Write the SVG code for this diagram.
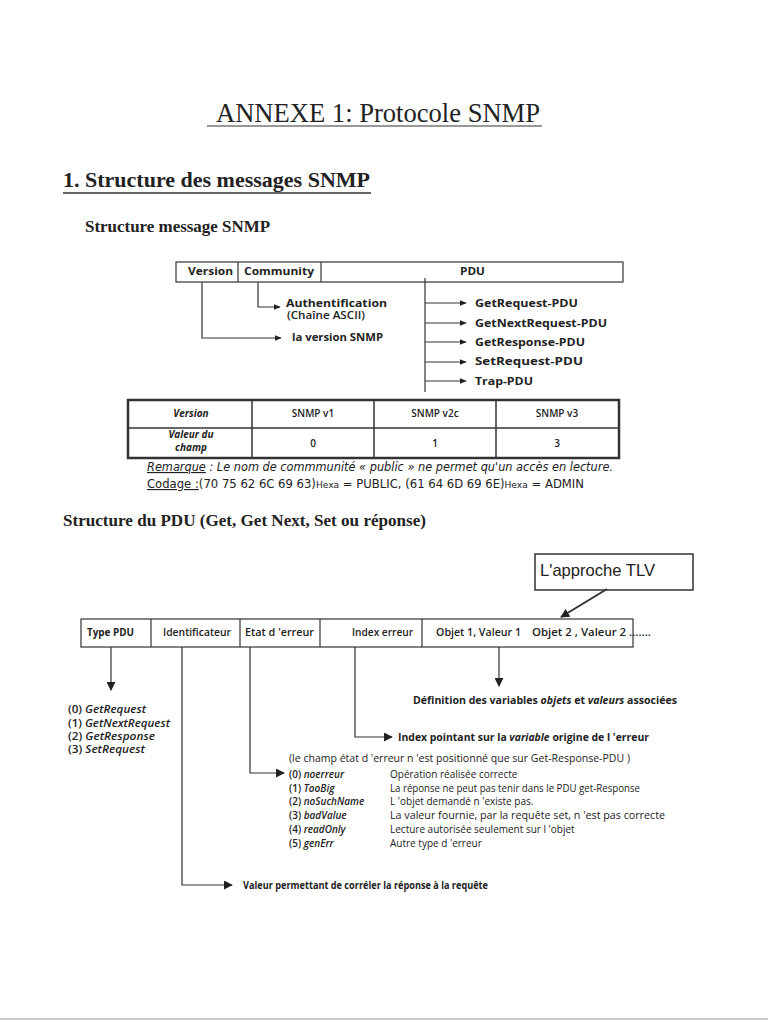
<svg xmlns="http://www.w3.org/2000/svg" width="768" height="1024" viewBox="0 0 768 1024">
<defs>
<marker id="ah" viewBox="0 0 10 10" refX="9" refY="5" markerWidth="7" markerHeight="7" markerUnits="userSpaceOnUse" orient="auto"><path d="M0,1 L10,5 L0,9 z" fill="#222"/></marker>
<marker id="ahb" viewBox="0 0 10 10" refX="9" refY="5" markerWidth="9" markerHeight="9" markerUnits="userSpaceOnUse" orient="auto"><path d="M0,0 L10,5 L0,10 z" fill="#222"/></marker>
<style>
.ti{font-family:"Liberation Serif",serif;fill:#222}
.f{font-family:"Open Sans","DejaVu Sans",sans-serif;font-weight:bold;font-size:10px;fill:#222}
.m{font-family:"Open Sans","DejaVu Sans",sans-serif;font-weight:600;font-size:10px;fill:#222}
.r{font-family:"Open Sans","DejaVu Sans",sans-serif;font-size:10px;fill:#222}
.it{font-style:italic}
.cm{font-family:"DejaVu Sans",sans-serif;font-size:11.5px;fill:#222}
.ln{fill:none;stroke:#333;stroke-width:1.2}
.bx{fill:#fff;stroke:#333;stroke-width:1.2}
</style>
</defs>
<rect width="768" height="1024" fill="#fff"/>
<line x1="0" y1="1019" x2="768" y2="1019" stroke="#bbb" stroke-width="1.5"/>

<g id="titles">
<text class="ti" x="216" y="122" font-size="26.5" textLength="324" lengthAdjust="spacingAndGlyphs">ANNEXE 1: Protocole SNMP</text>
<line x1="207" y1="126" x2="542" y2="126" stroke="#333" stroke-width="1.2"/>
<text class="ti" x="63" y="187" font-size="22" font-weight="bold" textLength="307" lengthAdjust="spacingAndGlyphs">1. Structure des messages SNMP</text>
<line x1="63" y1="193" x2="371" y2="193" stroke="#333" stroke-width="1.5"/>
<text class="ti" x="85" y="232" font-size="17" font-weight="bold" textLength="185" lengthAdjust="spacingAndGlyphs">Structure message SNMP</text>
<text class="ti" x="63" y="526" font-size="17" font-weight="bold" textLength="363" lengthAdjust="spacingAndGlyphs">Structure du PDU (Get, Get Next, Set ou réponse)</text>
</g>

<g id="message">
<rect class="bx" x="176" y="262" width="447" height="20"/>
<line class="ln" x1="238" y1="262" x2="238" y2="282"/>
<line class="ln" x1="321" y1="262" x2="321" y2="282"/>
<text class="f" x="188" y="275" textLength="45" lengthAdjust="spacingAndGlyphs">Version</text>
<text class="f" x="244" y="275" textLength="70" lengthAdjust="spacingAndGlyphs">Community</text>
<text class="f" x="460" y="275" textLength="25" lengthAdjust="spacingAndGlyphs">PDU</text>
</g>

<g id="msg-labels">
<text class="f" x="286" y="307" font-size="9" textLength="101" lengthAdjust="spacingAndGlyphs">Authentification</text>
<text class="m" x="287" y="319" font-size="8.5" textLength="78" lengthAdjust="spacingAndGlyphs">(Chaîne ASCII)</text>
<text class="f" x="292" y="341" textLength="91" lengthAdjust="spacingAndGlyphs">la version SNMP</text>
<text class="f" x="475" y="307" textLength="103" lengthAdjust="spacingAndGlyphs">GetRequest-PDU</text>
<text class="f" x="475" y="327" textLength="132" lengthAdjust="spacingAndGlyphs">GetNextRequest-PDU</text>
<text class="f" x="475" y="346" textLength="110" lengthAdjust="spacingAndGlyphs">GetResponse-PDU</text>
<text class="f" x="475" y="365" textLength="108" lengthAdjust="spacingAndGlyphs">SetRequest-PDU</text>
<text class="f" x="475" y="385" textLength="58" lengthAdjust="spacingAndGlyphs">Trap-PDU</text>
</g>

<g id="connectors-msg">
<polyline class="ln" points="202,282 202,338 281,338" marker-end="url(#ah)"/>
<polyline class="ln" points="258,282 258,307 280,307" marker-end="url(#ah)"/>
<line class="ln" x1="425" y1="278" x2="425" y2="392"/>
<line class="ln" x1="425" y1="303" x2="466" y2="303" marker-end="url(#ah)"/>
<line class="ln" x1="425" y1="323" x2="466" y2="323" marker-end="url(#ah)"/>
<line class="ln" x1="425" y1="342" x2="466" y2="342" marker-end="url(#ah)"/>
<line class="ln" x1="425" y1="362" x2="466" y2="362" marker-end="url(#ah)"/>
<line class="ln" x1="425" y1="381" x2="466" y2="381" marker-end="url(#ah)"/>
</g>

<g id="table">
<rect x="128" y="400" width="491" height="58" fill="#fff" stroke="#333" stroke-width="2.5"/>
<line x1="128" y1="428" x2="619" y2="428" stroke="#333" stroke-width="1.5"/>
<line x1="252" y1="400" x2="252" y2="458" stroke="#333" stroke-width="1.5"/>
<line x1="374" y1="400" x2="374" y2="458" stroke="#333" stroke-width="1.5"/>
<line x1="496" y1="400" x2="496" y2="458" stroke="#333" stroke-width="1.5"/>
<text class="f it" x="191" y="417" text-anchor="middle" font-size="10.5">Version</text>
<text class="m" x="313" y="417" text-anchor="middle" font-size="10.5">SNMP v1</text>
<text class="m" x="435" y="417" text-anchor="middle" font-size="10.5">SNMP v2c</text>
<text class="m" x="557" y="417" text-anchor="middle" font-size="10.5">SNMP v3</text>
<text class="f it" x="191" y="438" text-anchor="middle" font-size="9.5">Valeur du</text>
<text class="f it" x="191" y="451" text-anchor="middle" font-size="9.5">champ</text>
<text class="m" x="313" y="447" text-anchor="middle" font-size="10.5">0</text>
<text class="m" x="435" y="447" text-anchor="middle" font-size="10.5">1</text>
<text class="m" x="557" y="447" text-anchor="middle" font-size="10.5">3</text>
</g>

<g id="remarks">
<text class="cm it" x="147" y="471" textLength="466" lengthAdjust="spacingAndGlyphs"><tspan text-decoration="underline">Remarque</tspan> : Le nom de commmunité « public » ne permet qu'un accès en lecture.</text>
<text class="cm" x="147" y="488" textLength="437" lengthAdjust="spacingAndGlyphs"><tspan text-decoration="underline">Codage :</tspan>(70 75 62 6C 69 63)<tspan font-size="9">Hexa</tspan> = PUBLIC, (61 64 6D 69 6E)<tspan font-size="9">Hexa</tspan> = ADMIN</text>
</g>

<g id="tlv">
<rect x="535" y="554" width="158" height="36" fill="#fff" stroke="#333" stroke-width="1.5"/>
<text x="540" y="576" font-family="'Liberation Sans',Arial,sans-serif" font-size="16.5" fill="#222" textLength="115" lengthAdjust="spacingAndGlyphs">L'approche TLV</text>
</g>

<g id="pdu">
<rect class="bx" x="81" y="619" width="552" height="28"/>
<line class="ln" x1="151" y1="619" x2="151" y2="647"/>
<line class="ln" x1="240" y1="619" x2="240" y2="647"/>
<line class="ln" x1="320" y1="619" x2="320" y2="647"/>
<line class="ln" x1="422" y1="619" x2="422" y2="647"/>
<text class="f" x="87" y="636" textLength="47" lengthAdjust="spacingAndGlyphs">Type PDU</text>
<text class="m" x="163" y="636" textLength="68" lengthAdjust="spacingAndGlyphs">Identificateur</text>
<text class="m" x="245" y="636" textLength="69" lengthAdjust="spacingAndGlyphs">Etat d 'erreur</text>
<text class="m" x="352" y="636" textLength="61" lengthAdjust="spacingAndGlyphs">Index erreur</text>
<text class="m" x="436" y="636" textLength="85" lengthAdjust="spacingAndGlyphs">Objet 1, Valeur 1</text>
<text class="m" x="532" y="636" textLength="119" lengthAdjust="spacingAndGlyphs">Objet 2 , Valeur 2 .......</text>
</g>

<g id="pdu-labels">
<text class="m" x="68" y="713" textLength="78" lengthAdjust="spacingAndGlyphs">(0) <tspan font-style="italic">GetRequest</tspan></text>
<text class="m" x="68" y="727" textLength="102" lengthAdjust="spacingAndGlyphs">(1) <tspan font-style="italic">GetNextRequest</tspan></text>
<text class="m" x="68" y="740" textLength="87" lengthAdjust="spacingAndGlyphs">(2) <tspan font-style="italic">GetResponse</tspan></text>
<text class="m" x="68" y="753" textLength="77" lengthAdjust="spacingAndGlyphs">(3) <tspan font-style="italic">SetRequest</tspan></text>
<text class="f" x="413" y="704" textLength="264" lengthAdjust="spacingAndGlyphs">Définition des  variables <tspan font-style="italic">objets</tspan> et <tspan font-style="italic">valeurs</tspan> associées</text>
<text class="f" x="398" y="741" textLength="251" lengthAdjust="spacingAndGlyphs">Index pointant sur la <tspan font-style="italic">variable</tspan> origine de l 'erreur</text>
<text class="r" x="289" y="762" textLength="341" lengthAdjust="spacingAndGlyphs">(le champ état d 'erreur n 'est positionné que sur Get-Response-PDU )</text>
<text class="m" x="289" y="778">(0) <tspan font-style="italic">noerreur</tspan></text>
<text class="m" x="289" y="792">(1) <tspan font-style="italic">TooBig</tspan></text>
<text class="m" x="289" y="805">(2) <tspan font-style="italic">noSuchName</tspan></text>
<text class="m" x="289" y="819">(3) <tspan font-style="italic">badValue</tspan></text>
<text class="m" x="289" y="833">(4) <tspan font-style="italic">readOnly</tspan></text>
<text class="m" x="289" y="847">(5) <tspan font-style="italic">genErr</tspan></text>
<text class="r" x="390" y="778">Opération réalisée correcte</text>
<text class="r" x="390" y="792" textLength="250" lengthAdjust="spacingAndGlyphs">La réponse ne peut pas tenir dans le PDU get-Response</text>
<text class="r" x="390" y="805">L 'objet  demandé n 'existe pas.</text>
<text class="r" x="390" y="819" textLength="275" lengthAdjust="spacingAndGlyphs">La valeur fournie, par la requête set, n 'est pas correcte</text>
<text class="r" x="390" y="833">Lecture autorisée seulement sur l 'objet</text>
<text class="r" x="390" y="847">Autre type d 'erreur</text>
<text class="f" x="243" y="889" textLength="245" lengthAdjust="spacingAndGlyphs">Valeur permettant de corréler la réponse à la requête</text>
</g>

<g id="connectors-pdu">
<line x1="607" y1="589" x2="561" y2="617" stroke="#333" stroke-width="2" marker-end="url(#ahb)"/>
<line class="ln" x1="111" y1="647" x2="111" y2="690" marker-end="url(#ahb)"/>
<line class="ln" x1="499" y1="647" x2="499" y2="686" marker-end="url(#ahb)"/>
<polyline class="ln" points="355,647 355,737 392,737" marker-end="url(#ahb)"/>
<polyline class="ln" points="250,647 250,773 284,773" marker-end="url(#ahb)"/>
<polyline class="ln" points="182,647 182,885 232,885" marker-end="url(#ahb)"/>
</g>
</svg>
